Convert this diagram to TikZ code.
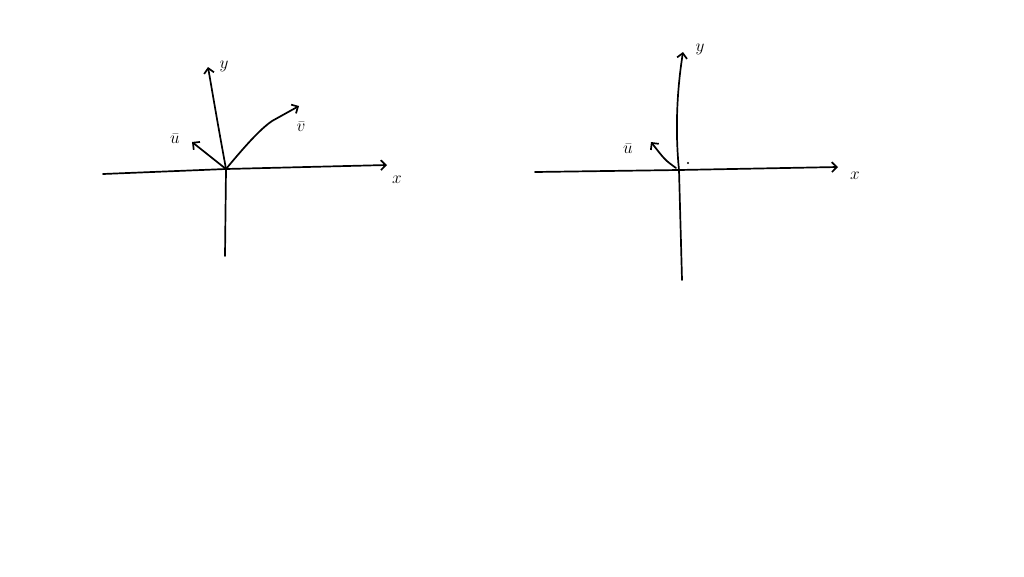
\documentclass[tikz,border=0pt]{standalone}
\usetikzlibrary{arrows.meta}
\begin{document}
\begin{tikzpicture}[x=1pt,y=-1pt,
  pen/.style={line width=1.7pt,line cap=round,line join=round},
  vec/.style={pen,-{Straight Barb[length=5pt,width=10pt]}},
  lbl/.style={inner sep=0pt,font=\fontsize{19}{19}\selectfont}]
\useasboundingbox (0,0) rectangle (1024,576);
% left diagram
\coordinate (O1) at (226,169);
\coordinate (xl1) at (103,174);
\coordinate (xr1) at (387,165);
\coordinate (yb1) at (225,256);
\coordinate (yt1) at (208,67);
\coordinate (u1) at (192,142);
\coordinate (v1) at (299,106);
\draw[pen] (xl1) -- (O1);
\draw[vec] (O1) -- (xr1);
\draw[pen] (yb1) -- (O1);
\draw[vec] (O1) .. controls (218,125) .. (yt1);
\draw[vec] (O1) -- (u1);
\draw[vec] (O1) .. controls (250,140) and (262,128) .. (272,121) -- (v1);
\node[lbl] (xlab1) at (397,180) {$x$};
\node[lbl] (ylab1) at (224,66) {$y$};
\node[lbl] (ulab1) at (175,139) {$\bar u$};
\node[lbl] (vlab1) at (301,127) {$\bar v$};
% right diagram
\coordinate (O2) at (679,170);
\coordinate (xl2) at (535,172);
\coordinate (xr2) at (838,167);
\coordinate (yb2) at (682,280);
\coordinate (yt2) at (683,52);
\coordinate (u2) at (651,142);
\draw[pen] (xl2) -- (O2);
\draw[vec] (O2) -- (xr2);
\draw[pen] (yb2) -- (O2);
\draw[vec] (O2) .. controls (675,130) and (677,90) .. (yt2);
\draw[vec] (676,168) .. controls (665,160) .. (u2);
\node[lbl] (xlab2) at (855,176) {$x$};
\node[lbl] (ylab2) at (700,49) {$y$};
\node[lbl] (ulab2) at (628,149) {$\bar u$};
\fill (688,163) circle (1.2pt);
\end{tikzpicture}
\end{document}
